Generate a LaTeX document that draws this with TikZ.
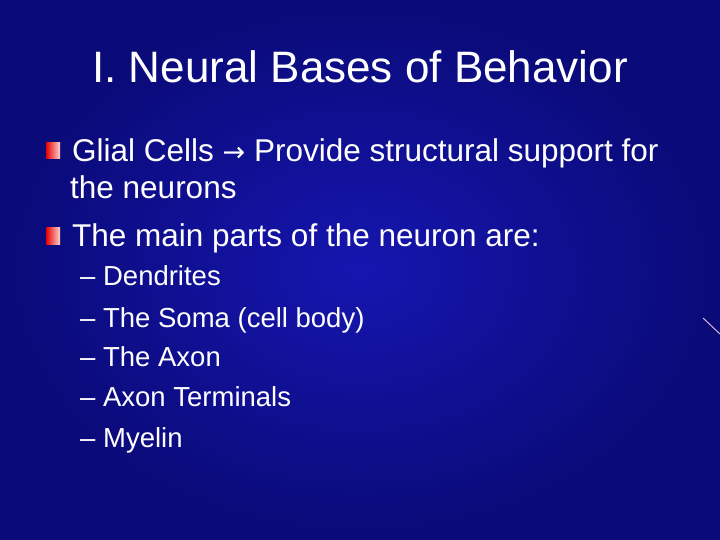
\documentclass[tikz,border=0pt]{standalone}
\usepackage{fontspec}
\setmainfont{Liberation Sans}
\newfontfamily\arrowfont{DejaVu Sans}
\usetikzlibrary{shadings}
\definecolor{bgc}{HTML}{1616B0}
\definecolor{bge}{HTML}{0A0A78}
\begin{document}
\begin{tikzpicture}[x=1pt,y=-1pt,
  txt/.style={anchor=base west,inner sep=0,text=white},
  lvl/.style={txt,font=\fontsize{31.5}{36}\selectfont},
  sub/.style={txt,font=\fontsize{27.5}{32}\selectfont},
  bul/.style={draw=none,left color=red!90!black,right color=pink!70!white,minimum width=14,minimum height=16,inner sep=0}]
\useasboundingbox (0,0) rectangle (720,540);
\shade[inner color=bgc,outer color=bge] (0,0) rectangle (720,540);
\node[txt,anchor=base,font=\fontsize{44}{50}\selectfont] (title) at (360,83) {I. Neural Bases of Behavior};
\node[bul] (b1) at (53,151) {};
\node[lvl] (l1) at (72,162) {Glial Cells {\arrowfont\fontsize{27}{32}\selectfont →} Provide structural support for};
\node[lvl] (l1b) at (70,199) {the neurons};
\node[bul] (b2) at (53,236) {};
\node[lvl] (l2) at (72,247) {The main parts of the neuron are:};
\node[sub] (s1) at (80,285) {– Dendrites};
\node[sub] (s2) at (80,327) {– The Soma (cell body)};
\node[sub] (s3) at (80,366) {– The Axon};
\node[sub] (s4) at (80,406) {– Axon Terminals};
\node[sub] (s5) at (80,447) {– Myelin};
\coordinate (la) at (703,318);
\coordinate (lb) at (720,334);
\draw[violet!30!white,line width=1] (la) -- (lb);
\end{tikzpicture}
\end{document}
